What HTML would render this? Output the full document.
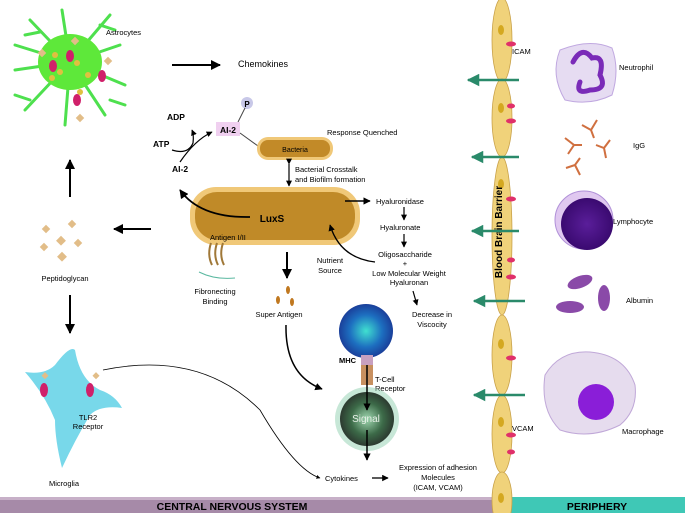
<!DOCTYPE html>
<html><head><meta charset="utf-8"><style>
html,body{margin:0;padding:0;background:#fff;}
svg{display:block;font-family:"Liberation Sans",sans-serif;}
.b{font-weight:bold;}
</style></head><body>
<svg width="685" height="513" viewBox="0 0 685 513" xmlns="http://www.w3.org/2000/svg">
<defs>
<marker id="ah" viewBox="0 0 10 10" refX="9" refY="5" markerWidth="5" markerHeight="5" orient="auto"><path d="M0,0L10,5L0,10z" fill="#000"/></marker>
<marker id="ag" viewBox="0 0 10 10" refX="9" refY="5" markerWidth="5" markerHeight="5" orient="auto"><path d="M0,0L10,5L0,10z" fill="#2a8a6a"/></marker>
<radialGradient id="mhc"><stop offset="0" stop-color="#40e0d0"/><stop offset="0.6" stop-color="#1d6fc0"/><stop offset="1" stop-color="#1a3f9a"/></radialGradient>
<radialGradient id="sig"><stop offset="0" stop-color="#9fd7b0"/><stop offset="0.6" stop-color="#3c6a48"/><stop offset="1" stop-color="#2c3a30"/></radialGradient>
<radialGradient id="lym"><stop offset="0" stop-color="#5a1e9a"/><stop offset="1" stop-color="#3a0a70"/></radialGradient>
</defs>
<rect x="0" y="497" width="497" height="16" fill="#a68aa8"/>
<rect x="0" y="497" width="497" height="3" fill="#c7b0c8"/>
<rect x="511" y="497" width="174" height="16" fill="#3fc8b6"/>
<text x="232" y="510" font-size="10.5" class="b" text-anchor="middle">CENTRAL NERVOUS SYSTEM</text>
<text x="597" y="510" font-size="10.5" class="b" text-anchor="middle">PERIPHERY</text>
<g fill="#f0d27a" stroke="#c9a24a" stroke-width="0.8">
<ellipse cx="502" cy="40" rx="10" ry="42"/>
<ellipse cx="502" cy="118" rx="10" ry="39"/>
<ellipse cx="502" cy="236" rx="10" ry="79"/>
<ellipse cx="502" cy="355" rx="10" ry="40"/>
<ellipse cx="502" cy="434" rx="10" ry="39"/>
<ellipse cx="502" cy="500" rx="10" ry="28"/>
</g>
<g fill="#d4a820"><ellipse cx="501" cy="30" rx="3" ry="5"/><ellipse cx="501" cy="108" rx="3" ry="5"/><ellipse cx="501" cy="184" rx="3" ry="5"/><ellipse cx="501" cy="344" rx="3" ry="5"/><ellipse cx="501" cy="422" rx="3" ry="5"/><ellipse cx="501" cy="498" rx="3" ry="5"/></g>
<g fill="#e0306a"><ellipse cx="511" cy="44" rx="5" ry="2.5"/><ellipse cx="511" cy="106" rx="4" ry="2.5"/><ellipse cx="511" cy="121" rx="5" ry="2.5"/><ellipse cx="511" cy="199" rx="5" ry="2.5"/><ellipse cx="511" cy="260" rx="4" ry="2.5"/><ellipse cx="511" cy="277" rx="5" ry="2.5"/><ellipse cx="511" cy="358" rx="5" ry="2.5"/><ellipse cx="511" cy="435" rx="5" ry="2.5"/><ellipse cx="511" cy="452" rx="4" ry="2.5"/></g>
<text x="502" y="232" font-size="10" class="b" text-anchor="middle" transform="rotate(-90 502 232)">Blood Brain Barrier</text>
<text x="512" y="54" font-size="7.5">ICAM</text>
<text x="512" y="431" font-size="7.5">VCAM</text>
<g stroke="#2a8a6a" stroke-width="2.5" fill="none" marker-end="url(#ag)">
<line x1="519" y1="80" x2="468" y2="80"/><line x1="519" y1="157" x2="472" y2="157"/><line x1="519" y1="231" x2="472" y2="231"/><line x1="525" y1="301" x2="474" y2="301"/><line x1="525" y1="395" x2="474" y2="395"/>
</g>
<path d="M560,50 Q590,38 612,48 Q620,70 612,95 Q590,106 565,100 Q550,75 560,50z" fill="#e6dcf2" stroke="#c0a8e0"/>
<path d="M573,62 Q582,45 592,58 Q605,55 600,75 Q608,90 590,90 Q575,95 580,82" fill="none" stroke="#7a2bb8" stroke-width="5" stroke-linecap="round"/>
<text x="619" y="70" font-size="7.5">Neutrophil</text>
<g stroke="#d07040" stroke-width="2" fill="none">
<path d="M582,125 L591,130 L597,120 M591,130 L594,138"/><path d="M565,138 L574,145 L568,154 M574,145 L582,145"/><path d="M596,145 L604,148 L610,140 M604,148 L606,158"/><path d="M566,168 L575,165 L580,158 M575,165 L580,175"/>
</g>
<text x="633" y="148" font-size="7.5">IgG</text>
<circle cx="584" cy="220" r="29" fill="#e0c8f0" stroke="#b090d8"/>
<circle cx="587" cy="224" r="26" fill="url(#lym)"/>
<text x="613" y="224" font-size="7.5">Lymphocyte</text>
<g fill="#8a4aa8"><ellipse cx="580" cy="282" rx="13" ry="6" transform="rotate(-20 580 282)"/><ellipse cx="570" cy="307" rx="14" ry="6"/><ellipse cx="604" cy="298" rx="6" ry="13"/></g>
<text x="626" y="303" font-size="7.5">Albumin</text>
<path d="M545,375 Q560,350 590,352 Q625,355 635,385 Q638,410 620,425 Q590,440 560,430 Q540,410 545,375z" fill="#e6dcee" stroke="#c0a8d8"/>
<circle cx="596" cy="402" r="18" fill="#8a1ed8"/>
<text x="622" y="434" font-size="7.5">Macrophage</text>
<g stroke="#4ee04e" stroke-width="3" stroke-linecap="round" fill="none">
<path d="M70,62 L30,20 M70,62 L62,10 M70,62 L110,15 M70,62 L120,45 M70,62 L125,85 M70,62 L105,115 M70,62 L65,125 M70,62 L25,110 M70,62 L15,70 M70,62 L15,45 M40,32 L25,35 M100,25 L115,30 M110,100 L125,105 M30,100 L15,95"/>
</g>
<ellipse cx="70" cy="62" rx="32" ry="28" fill="#5ee83a"/>
<g fill="#e0c040"><circle cx="55" cy="55" r="3"/><circle cx="77" cy="63" r="3"/><circle cx="88" cy="75" r="3"/><circle cx="60" cy="72" r="3"/><circle cx="80" cy="92" r="3"/><circle cx="52" cy="78" r="3"/></g>
<g fill="#d0206a"><ellipse cx="53" cy="66" rx="4" ry="6"/><ellipse cx="70" cy="56" rx="4" ry="6"/><ellipse cx="102" cy="76" rx="4" ry="6"/><ellipse cx="77" cy="100" rx="4" ry="6"/></g>
<g fill="#e2bd88"><rect x="39" y="50" width="6" height="6" transform="rotate(45 42 53)"/><rect x="72" y="38" width="6" height="6" transform="rotate(45 75 41)"/><rect x="105" y="58" width="6" height="6" transform="rotate(45 108 61)"/><rect x="77" y="115" width="6" height="6" transform="rotate(45 80 118)"/></g>
<text x="106" y="35" font-size="7.5">Astrocytes</text>
<line x1="172" y1="65" x2="220" y2="65" stroke="#000" stroke-width="2" marker-end="url(#ah)"/>
<text x="238" y="67" font-size="9">Chemokines</text>
<g fill="#e2bd88"><rect x="43" y="226" width="6" height="6" transform="rotate(45 46 229)"/><rect x="69" y="221" width="6" height="6" transform="rotate(45 72 224)"/><rect x="58" y="237" width="7" height="7" transform="rotate(45 61 240)"/><rect x="75" y="240" width="6" height="6" transform="rotate(45 78 243)"/><rect x="41" y="244" width="6" height="6" transform="rotate(45 44 247)"/><rect x="59" y="253" width="7" height="7" transform="rotate(45 62 256)"/></g>
<text x="65" y="281" font-size="7.5" text-anchor="middle">Peptidoglycan</text>
<g stroke="#000" stroke-width="2" marker-end="url(#ah)">
<line x1="70" y1="197" x2="70" y2="160"/><line x1="151" y1="229" x2="114" y2="229"/><line x1="70" y1="295" x2="70" y2="333"/>
</g>
<path d="M25,372 Q45,375 55,365 Q70,345 75,350 Q80,380 100,390 Q115,395 122,408 Q100,405 90,415 Q75,440 62,468 Q55,440 55,420 Q45,395 25,372z" fill="#78d8ea"/>
<g fill="#d0206a"><ellipse cx="44" cy="390" rx="4" ry="7"/><ellipse cx="90" cy="390" rx="4" ry="7"/></g>
<g fill="#e2bd88"><rect x="43" y="373" width="5" height="5" transform="rotate(45 45 375)"/><rect x="94" y="373" width="5" height="5" transform="rotate(45 96 375)"/></g>
<text x="88" y="420" font-size="7.5" text-anchor="middle">TLR2</text>
<text x="88" y="429" font-size="7.5" text-anchor="middle">Receptor</text>
<text x="64" y="486" font-size="7.5" text-anchor="middle">Microglia</text>
<path d="M103,370 Q200,350 260,410 Q295,470 320,478" fill="none" stroke="#000" stroke-width="0.8" marker-end="url(#ah)"/>
<circle cx="247" cy="103" r="6" fill="#c8c8e8"/><text x="247" y="107" font-size="8" class="b" text-anchor="middle">P</text>
<line x1="245" y1="108" x2="238" y2="122" stroke="#444"/>
<rect x="216" y="122" width="24" height="14" fill="#f0d0f0"/>
<text x="228" y="133" font-size="8.5" class="b" text-anchor="middle">AI-2</text>
<line x1="240" y1="133" x2="258" y2="146" stroke="#444"/>
<text x="167" y="120" font-size="8.5" class="b">ADP</text>
<text x="153" y="147" font-size="8.5" class="b">ATP</text>
<text x="172" y="172" font-size="8.5" class="b">AI-2</text>
<path d="M172,150 Q188,155 193,143 Q194,135 192,130" fill="none" stroke="#000" stroke-width="1.2" marker-end="url(#ah)"/>
<path d="M180,162 Q195,140 212,132" fill="none" stroke="#000" stroke-width="1.2" marker-end="url(#ah)"/>
<rect x="257" y="137" width="76" height="23" rx="11" fill="#f0c878"/>
<rect x="260" y="140" width="70" height="17" rx="8" fill="#c28a28"/>
<text x="295" y="152" font-size="7" text-anchor="middle">Bacteria</text>
<text x="327" y="135" font-size="7.5">Response Quenched</text>
<line x1="289" y1="164" x2="289" y2="186" stroke="#000" stroke-width="1.2" marker-end="url(#ah)" marker-start="url(#ah)"/>
<text x="295" y="172" font-size="7.5">Bacterial Crosstalk</text>
<text x="295" y="182" font-size="7.5">and Biofilm formation</text>
<rect x="190" y="187" width="170" height="58" rx="26" fill="#f0c878"/>
<rect x="195" y="192" width="160" height="48" rx="22" fill="#c08a28"/>
<text x="272" y="222" font-size="10" class="b" text-anchor="middle">LuxS</text>
<text x="210" y="240" font-size="7.5">Antigen I/II</text>
<path d="M250,217 Q200,218 180,190" fill="none" stroke="#000" stroke-width="1.8" marker-end="url(#ah)"/>
<g stroke="#a07838" stroke-width="2" fill="none"><path d="M211,243 Q207,255 212,265"/><path d="M217,243 Q213,255 218,265"/><path d="M223,243 Q219,255 224,265"/></g>
<path d="M199,272 Q215,280 235,278" fill="none" stroke="#5ab8a0"/>
<text x="215" y="294" font-size="7.5" text-anchor="middle">Fibronecting</text>
<text x="215" y="304" font-size="7.5" text-anchor="middle">Binding</text>
<line x1="287" y1="252" x2="287" y2="278" stroke="#000" stroke-width="2" marker-end="url(#ah)"/>
<g fill="#c07820"><ellipse cx="278" cy="300" rx="2" ry="4"/><ellipse cx="288" cy="290" rx="2" ry="4"/><ellipse cx="292" cy="302" rx="2" ry="4"/></g>
<text x="279" y="317" font-size="7.5" text-anchor="middle">Super Antigen</text>
<path d="M286,325 Q285,375 322,389" fill="none" stroke="#000" stroke-width="1.5" marker-end="url(#ah)"/>
<line x1="345" y1="201" x2="370" y2="201" stroke="#000" stroke-width="1.5" marker-end="url(#ah)"/>
<text x="376" y="204" font-size="7.5">Hyaluronidase</text>
<line x1="404" y1="207" x2="404" y2="220" stroke="#000" stroke-width="1.2" marker-end="url(#ah)"/>
<text x="380" y="230" font-size="7.5">Hyaluronate</text>
<line x1="404" y1="234" x2="404" y2="247" stroke="#000" stroke-width="1.2" marker-end="url(#ah)"/>
<text x="405" y="257" font-size="7.5" text-anchor="middle">Oligosaccharide</text>
<text x="405" y="266" font-size="7.5" text-anchor="middle">+</text>
<text x="409" y="276" font-size="7.5" text-anchor="middle">Low Molecular Weight</text>
<text x="409" y="285" font-size="7.5" text-anchor="middle">Hyaluronan</text>
<path d="M375,262 Q340,258 330,225" fill="none" stroke="#000" stroke-width="1.3" marker-end="url(#ah)"/>
<text x="330" y="263" font-size="7.5" text-anchor="middle">Nutrient</text>
<text x="330" y="273" font-size="7.5" text-anchor="middle">Source</text>
<line x1="413" y1="291" x2="417" y2="305" stroke="#000" stroke-width="1.2" marker-end="url(#ah)"/>
<text x="432" y="317" font-size="7.5" text-anchor="middle">Decrease in</text>
<text x="432" y="327" font-size="7.5" text-anchor="middle">Viscocity</text>
<circle cx="366" cy="331" r="27" fill="url(#mhc)"/>
<rect x="361" y="355" width="12" height="30" fill="#c89060"/>
<rect x="361" y="355" width="12" height="10" fill="#c8a0c0"/>
<text x="339" y="363" font-size="7.5" class="b">MHC</text>
<text x="375" y="382" font-size="7.5">T-Cell</text>
<text x="375" y="391" font-size="7.5">Receptor</text>
<circle cx="367" cy="419" r="32" fill="#8fd0b0" opacity="0.5"/>
<circle cx="367" cy="419" r="27" fill="url(#sig)"/>
<text x="366" y="422" font-size="10" fill="#e8f0e8" text-anchor="middle">Signal</text>
<line x1="367" y1="365" x2="367" y2="410" stroke="#000" stroke-width="1.5" marker-end="url(#ah)"/>
<line x1="367" y1="430" x2="367" y2="460" stroke="#000" stroke-width="1.5" marker-end="url(#ah)"/>
<text x="325" y="481" font-size="7.5">Cytokines</text>
<line x1="372" y1="478" x2="388" y2="478" stroke="#000" stroke-width="1.3" marker-end="url(#ah)"/>
<text x="438" y="470" font-size="7.5" text-anchor="middle">Expression of adhesion</text>
<text x="438" y="480" font-size="7.5" text-anchor="middle">Molecules</text>
<text x="438" y="490" font-size="7.5" text-anchor="middle">(ICAM, VCAM)</text>
</svg>
</body></html>
